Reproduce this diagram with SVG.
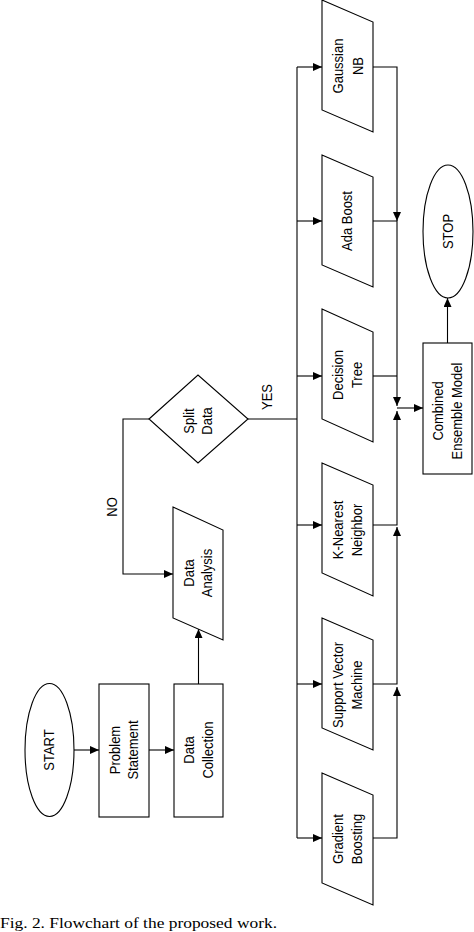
<svg xmlns="http://www.w3.org/2000/svg" width="474" height="932" viewBox="0 0 474 932">
<style>
.s{fill:#fff;stroke:#000;stroke-width:1.1}
.c{fill:none;stroke:#000;stroke-width:1.1}
.t{font-family:"Liberation Sans",Arial,sans-serif;font-size:13px;text-anchor:middle;fill:#000}
.cap{font-family:"Liberation Serif","Times New Roman",serif;font-size:15px;fill:#000}
</style>
<defs>
<marker id="a" markerUnits="userSpaceOnUse" markerWidth="9" markerHeight="8" refX="9" refY="4" orient="auto">
<path d="M0,0 L9,4 L0,8 z" fill="#000"/>
</marker>
</defs>
<rect width="474" height="932" fill="#fff"/>
<g id="connectors" class="c" marker-end="url(#a)">
<path d="M74,750 H99"/>
<path d="M149,750 H174"/>
<path d="M198.5,684 V629"/>
<path d="M149,419 H123 V574 H173"/>
<path d="M248,419 H297" marker-end="none"/>
<path d="M297,67 V838" marker-end="none"/>
<path d="M297,67 H322"/>
<path d="M297,221 H322"/>
<path d="M297,376 H322"/>
<path d="M297,525 H322"/>
<path d="M297,684 H322"/>
<path d="M297,838 H322"/>
<path d="M373,67 H397 V221"/>
<path d="M373,221 H397 V406"/>
<path d="M373,376 H397" marker-end="none"/>
<path d="M373,838 H397 V687"/>
<path d="M373,684 H397 V527"/>
<path d="M373,525 H397 V411"/>
<path d="M397,408 H423"/>
<path d="M447.5,343 V298"/>
</g>
<g id="start"><ellipse class="s" cx="49.5" cy="750" rx="24.5" ry="66.5"/>
<text class="t" transform="translate(49.5 750) scale(1.15 1) rotate(-90)" y="4">START</text></g>
<g id="problem"><rect class="s" x="99" y="684" width="50" height="133"/>
<text class="t" transform="translate(124 750) scale(1.15 1) rotate(-90)"><tspan x="0" y="-3.9">Problem</tspan><tspan x="0" y="12.6">Statement</tspan></text></g>
<g id="collection"><rect class="s" x="174" y="684" width="49" height="133"/>
<text class="t" transform="translate(198.5 750) scale(1.15 1) rotate(-90)"><tspan x="0" y="-3.9">Data</tspan><tspan x="0" y="12.6">Collection</tspan></text></g>
<g id="analysis"><polygon class="s" points="173,507 223,530 223,640 173,618"/>
<text class="t" transform="translate(198 573) scale(1.15 1) rotate(-90)"><tspan x="0" y="-3.9">Data</tspan><tspan x="0" y="12.6">Analysis</tspan></text></g>
<g id="split"><polygon class="s" points="149,419 198,375 248,419 198,463"/>
<text class="t" transform="translate(198 421) scale(1.15 1) rotate(-90)"><tspan x="0" y="-3.9">Split</tspan><tspan x="0" y="12.6">Data</tspan></text></g>
<g id="label-no"><text class="t" transform="translate(112 507) scale(1.15 1) rotate(-90)" y="4">NO</text></g>
<g id="label-yes"><text class="t" transform="translate(267 397) scale(1.15 1) rotate(-90)" y="4">YES</text></g>
<g id="gaussian"><polygon class="s" points="322,0 373,22 373,132 322,110"/>
<text class="t" transform="translate(347.5 66) scale(1.15 1) rotate(-90)"><tspan x="0" y="-4.3">Gaussian</tspan><tspan x="0" y="13.2">NB</tspan></text></g>
<g id="ada"><polygon class="s" points="322,155 373,177 373,287 322,265"/>
<text class="t" transform="translate(347.5 221) scale(1.15 1) rotate(-90)" y="4">Ada Boost</text></g>
<g id="decision"><polygon class="s" points="322,309 373,332 373,442 322,419"/>
<text class="t" transform="translate(347.5 375) scale(1.15 1) rotate(-90)"><tspan x="0" y="-3.9">Decision</tspan><tspan x="0" y="12.6">Tree</tspan></text></g>
<g id="knn"><polygon class="s" points="322,463 373,485 373,596 322,573"/>
<text class="t" transform="translate(347.5 530) scale(1.15 1) rotate(-90)"><tspan x="0" y="-3.9">K-Nearest</tspan><tspan x="0" y="12.6">Neighbor</tspan></text></g>
<g id="svm"><polygon class="s" points="322,618 373,640 373,750 322,728"/>
<text class="t" transform="translate(347.5 685) scale(1.15 1) rotate(-90)"><tspan x="0" y="-3.9">Support Vector</tspan><tspan x="0" y="12.6">Machine</tspan></text></g>
<g id="gb"><polygon class="s" points="322,773 373,795 373,905 322,883"/>
<text class="t" transform="translate(347.5 839) scale(1.15 1) rotate(-90)"><tspan x="0" y="-3.9">Gradient</tspan><tspan x="0" y="12.6">Boosting</tspan></text></g>
<g id="combined"><rect class="s" x="423" y="343" width="49" height="131"/>
<text class="t" transform="translate(447.5 411) scale(1.15 1) rotate(-90)"><tspan x="0" y="-3.9">Combined</tspan><tspan x="0" y="12.6">Ensemble Model</tspan></text></g>
<g id="stop"><ellipse class="s" cx="448" cy="231.5" rx="25" ry="66.5"/>
<text class="t" transform="translate(448 231.5) scale(1.15 1) rotate(-90)" y="4">STOP</text></g>
<text class="cap" x="0" y="928" textLength="277" lengthAdjust="spacingAndGlyphs">Fig. 2. Flowchart of the proposed work.</text>
</svg>
